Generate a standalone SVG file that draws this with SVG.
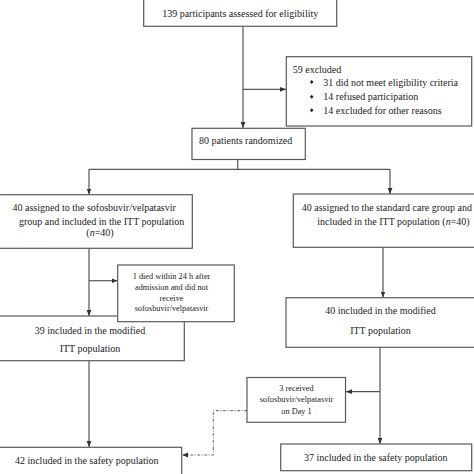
<svg xmlns="http://www.w3.org/2000/svg" width="474" height="474" viewBox="0 0 474 474">
<style>
.box{fill:#fff;stroke:#5a5a5a;stroke-width:1.2}
.ln{fill:none;stroke:#555;stroke-width:1.2}
.dd{fill:none;stroke:#666;stroke-width:1;stroke-dasharray:3,1.5,1,1.5}
text{font-family:"Liberation Serif","Times New Roman",serif;font-size:10px;fill:#222}
.m{text-anchor:middle}
.s{font-size:8.3px}
</style>
<defs>
<marker id="ah" markerUnits="userSpaceOnUse" markerWidth="6" markerHeight="6" viewBox="0 0 6 6" refX="6" refY="3" orient="auto">
<path d="M0,0.6 L6,3 L0,5.4 Z" fill="#333"/>
</marker>
</defs>
<rect width="474" height="474" fill="#fff"/>
<g id="connectors">
<path class="ln" d="M243,26.5 V128" marker-end="url(#ah)"/>
<path class="ln" d="M243,89.3 H286" marker-end="url(#ah)"/>
<path class="ln" d="M237.7,159.5 V169.3"/>
<path class="ln" d="M89,169.3 H390"/>
<path class="ln" d="M89,169.3 V194.5" marker-end="url(#ah)"/>
<path class="ln" d="M390,169.3 V194" marker-end="url(#ah)"/>
<path class="ln" d="M89,248.3 V316" marker-end="url(#ah)"/>
<path class="ln" d="M89,280.7 H117.5" marker-end="url(#ah)"/>
<path class="ln" d="M383,247.3 V297.5" marker-end="url(#ah)"/>
<path class="ln" d="M89,360.7 V447" marker-end="url(#ah)"/>
<path class="ln" d="M380,347.3 V444" marker-end="url(#ah)"/>
<path class="ln" d="M380,391.7 H346" marker-end="url(#ah)"/>
<path class="dd" d="M247,410.7 H213.3 V455 H182" marker-end="url(#ah)"/>
</g>
<g id="n-assessed">
<rect class="box" x="143.7" y="-1" width="193" height="27.3"/>
<text class="m" x="240.2" y="16.8">139 participants assessed for eligibility</text>
</g>
<g id="n-excluded">
<rect class="box" x="286.3" y="56.7" width="185.4" height="69.3"/>
<text x="292.7" y="72.5">59 excluded</text>
<path d="M311.7,80 l1.8,2 l-1.8,2 l-1.8,-2 Z M311.7,94.7 l1.8,2 l-1.8,2 l-1.8,-2 Z M311.7,108.3 l1.8,2 l-1.8,2 l-1.8,-2 Z" fill="#222"/>
<text x="323.3" y="85.5">31 did not meet eligibility criteria</text>
<text x="323.3" y="100.2">14 refused participation</text>
<text x="323.3" y="113.8">14 excluded for other reasons</text>
</g>
<g id="n-randomized">
<rect class="box" x="192" y="128.3" width="113.3" height="31.2"/>
<text x="199" y="144.2">80 patients randomized</text>
</g>
<g id="n-sof-itt">
<rect class="box" x="-1" y="194.7" width="193.3" height="53.6"/>
<text class="m" x="94.2" y="211.2">40 assigned to the sofosbuvir/velpatasvir</text>
<text class="m" x="101.7" y="225.2">group and included in the ITT population</text>
<text class="m" x="100" y="236.2">(<tspan font-style="italic">n</tspan>=40)</text>
</g>
<g id="n-std-itt">
<rect class="box" x="293.3" y="194" width="183" height="53.3"/>
<text x="301.7" y="211.2">40 assigned to the standard care group and</text>
<text x="317.3" y="225.2">included in the ITT population (<tspan font-style="italic">n</tspan>=40)</text>
</g>
<g id="n-sof-mitt">
<rect class="box" x="-1" y="316" width="185.3" height="44.7"/>
<text class="m" x="90" y="333.5">39 included in the modified</text>
<text class="m" x="90" y="351.8">ITT population</text>
</g>
<g id="n-died">
<rect class="box" x="117.7" y="265" width="116.6" height="56.7"/>
<text class="m s" x="171.5" y="278.8">1 died within 24 h after</text>
<text class="m s" x="171.5" y="289.5">admission and did not</text>
<text class="m s" x="171.5" y="300.5">receive</text>
<text class="m s" x="171.5" y="311.1">sofosbuvir/velpatasvir</text>
</g>
<g id="n-std-mitt">
<rect class="box" x="286" y="297.7" width="190" height="49.6"/>
<text class="m" x="380.5" y="314.2">40 included in the modified</text>
<text class="m" x="380.5" y="333.5">ITT population</text>
</g>
<g id="n-received">
<rect class="box" x="247" y="377.5" width="98.5" height="44.8"/>
<text class="m s" x="296.5" y="391.1">3 received</text>
<text class="m s" x="296.5" y="402.1">sofosbuvir/velpatasvir</text>
<text class="m s" x="296.5" y="413.5">on Day 1</text>
</g>
<g id="n-sof-safety">
<rect class="box" x="-1" y="447.3" width="182.7" height="30"/>
<text class="m" x="86.7" y="463.5">42 included in the safety population</text>
</g>
<g id="n-std-safety">
<rect class="box" x="280.7" y="444" width="191" height="26.7"/>
<text class="m" x="375.8" y="460.8">37 included in the safety population</text>
</g>
</svg>
